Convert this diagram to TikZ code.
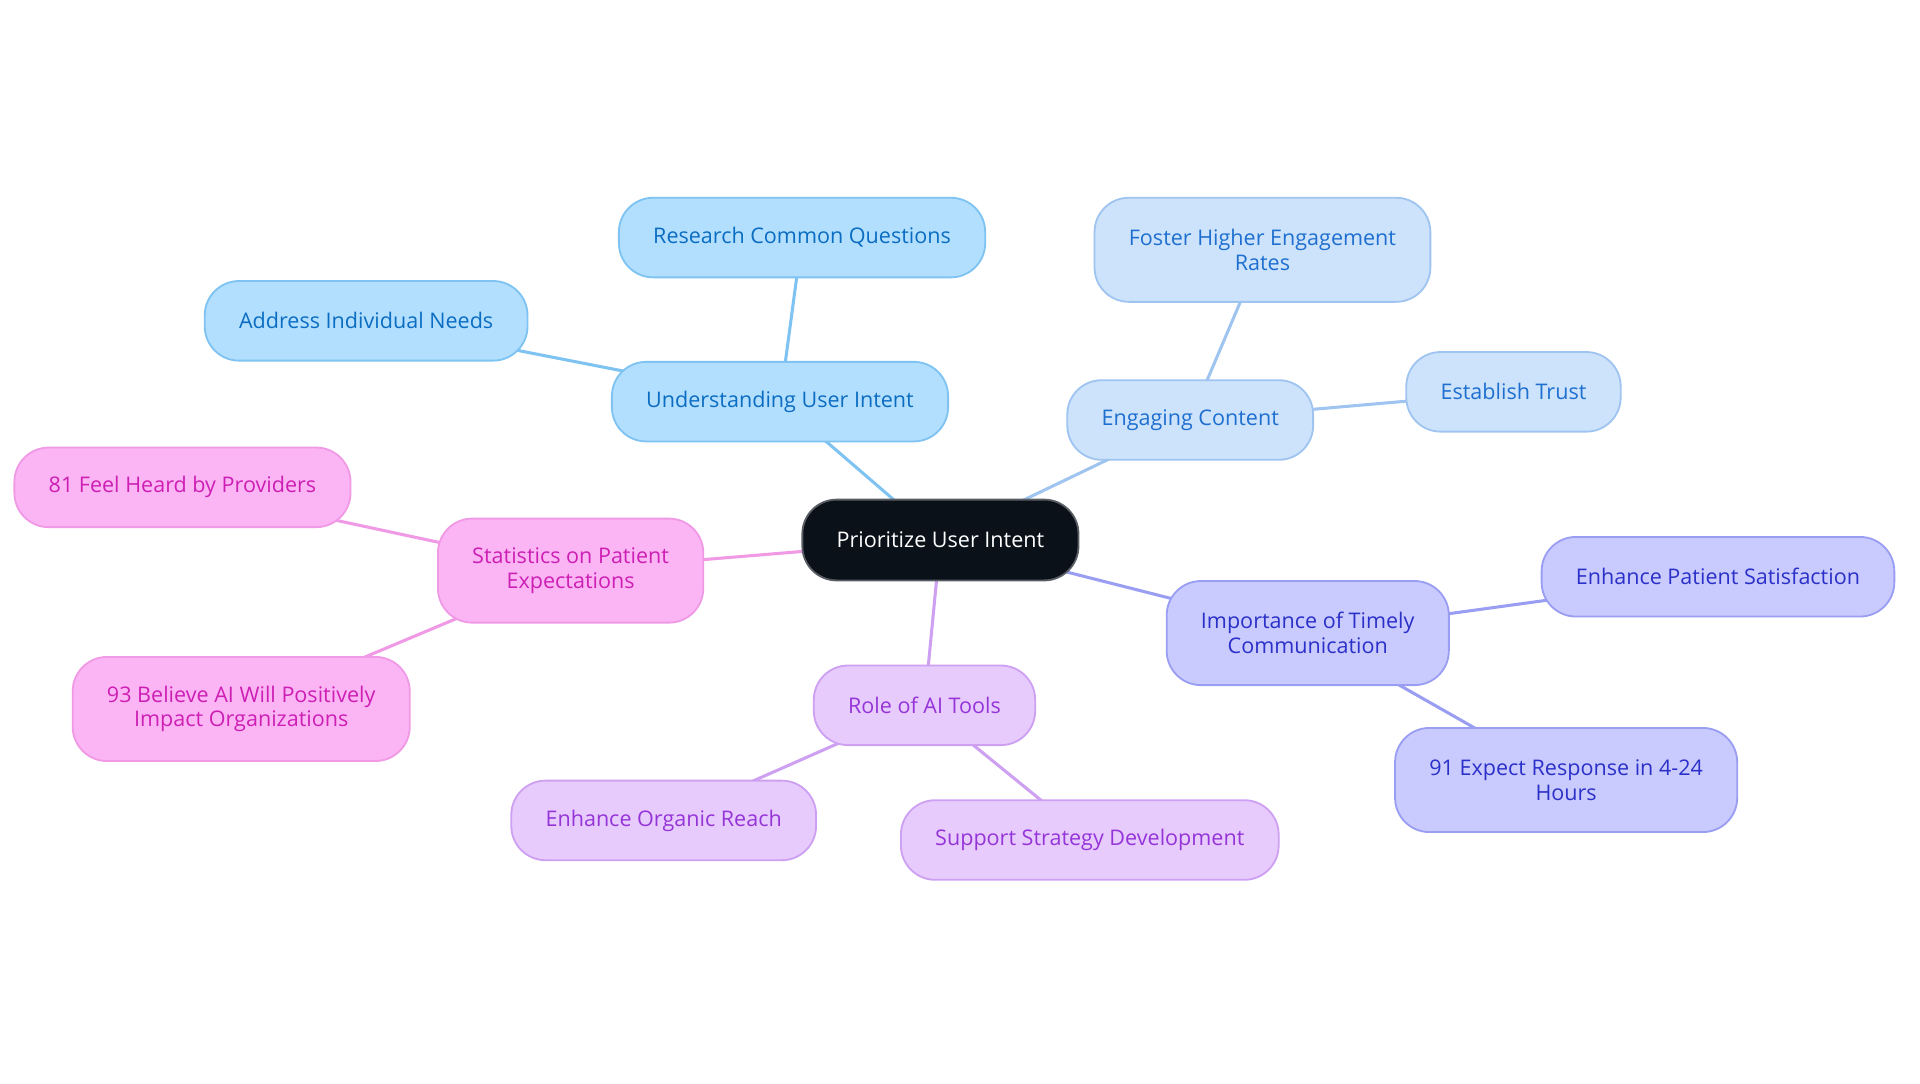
\documentclass[tikz,border=0pt]{standalone}
\usepackage{fontspec}
\setmainfont{Open Sans}
\usepackage{xcolor}
\definecolor{rootbg}{RGB}{11,17,25}
\definecolor{rootline}{RGB}{90,94,100}
\definecolor{skyfill}{RGB}{179,223,255}
\definecolor{skyline}{RGB}{126,195,242}
\definecolor{skytext}{RGB}{11,109,194}
\definecolor{paleblfill}{RGB}{205,227,251}
\definecolor{paleblline}{RGB}{160,196,240}
\definecolor{palebltext}{RGB}{30,111,208}
\definecolor{indfill}{RGB}{201,203,254}
\definecolor{indline}{RGB}{154,158,242}
\definecolor{indtext}{RGB}{43,48,200}
\definecolor{vioffill}{RGB}{232,203,253}
\definecolor{vioeline}{RGB}{205,160,242}
\definecolor{viotext}{RGB}{149,53,216}
\definecolor{pinkfill}{RGB}{251,181,244}
\definecolor{pinkline}{RGB}{240,154,230}
\definecolor{pinktext}{RGB}{205,31,180}
\usepackage{tikz}
\usetikzlibrary{positioning,backgrounds}

\tikzset{
  bubble/.style={draw,line width=0.75pt,rounded corners=14pt,align=center,
    inner xsep=14pt,minimum height=32.5pt,font=\fontsize{8.8}{10}\selectfont},
  twoline/.style={minimum height=42.5pt},
  rootnode/.style={bubble,fill=rootbg,draw=rootline,text=white,minimum height=33pt},
  skynode/.style={bubble,fill=skyfill,draw=skyline,text=skytext},
  palenode/.style={bubble,fill=paleblfill,draw=paleblline,text=palebltext},
  indnode/.style={bubble,fill=indfill,draw=indline,text=indtext},
  vionode/.style={bubble,fill=vioffill,draw=vioeline,text=viotext},
  pinknode/.style={bubble,fill=pinkfill,draw=pinkline,text=pinktext},
  link/.style={line width=1.25pt}
}

\begin{document}
\begin{tikzpicture}[x=0.5pt,y=-0.5pt]
\useasboundingbox (0,0) rectangle (1568,884.5);

% centre
\node[rootnode] (root) at (768,441) {Prioritize User Intent};

% first ring
\node[skynode] (understand) at (637,328) {Understanding User Intent};
\node[palenode] (engaging) at (972,343) {Engaging Content};
\node[indnode,twoline] (timely) at (1068,517) {Importance of Timely\\Communication};
\node[vionode] (aitools) at (755,576) {Role of AI Tools};
\node[pinknode,twoline] (stats) at (466,466) {Statistics on Patient\\Expectations};

% leaves
\node[skynode] (research) at (655,194) {Research Common Questions};
\node[skynode] (address) at (299,262) {Address Individual Needs};
\node[palenode,twoline] (foster) at (1031,204) {Foster Higher Engagement\\Rates};
\node[palenode] (trust) at (1236,320) {Establish Trust};
\node[indnode] (satisf) at (1403,471) {Enhance Patient Satisfaction};
\node[indnode,twoline] (respond) at (1279,637) {91 Expect Response in 4-24\\Hours};
\node[vionode] (organic) at (542,670) {Enhance Organic Reach};
\node[vionode] (strategy) at (890,686) {Support Strategy Development};
\node[pinknode] (heard) at (149,398) {81 Feel Heard by Providers};
\node[pinknode,twoline] (believe) at (197,579) {93 Believe AI Will Positively\\Impact Organizations};

% connectors, behind the bubbles
\begin{scope}[on background layer]
\draw[link,skyline] (root.center) -- (understand.center);
\draw[link,skyline] (understand.center) -- (research.center);
\draw[link,skyline] (understand.center) -- (address.center);
\draw[link,paleblline] (root.center) -- (engaging.center);
\draw[link,paleblline] (engaging.center) -- (foster.center);
\draw[link,paleblline] (engaging.center) -- (trust.center);
\draw[link,indline] (root.center) -- (timely.center);
\draw[link,indline] (timely.center) -- (satisf.center);
\draw[link,indline] (timely.center) -- (respond.center);
\draw[link,vioeline] (root.center) -- (aitools.center);
\draw[link,vioeline] (aitools.center) -- (organic.center);
\draw[link,vioeline] (aitools.center) -- (strategy.center);
\draw[link,pinkline] (root.center) -- (stats.center);
\draw[link,pinkline] (stats.center) -- (heard.center);
\draw[link,pinkline] (stats.center) -- (believe.center);
\end{scope}
\end{tikzpicture}
\end{document}
